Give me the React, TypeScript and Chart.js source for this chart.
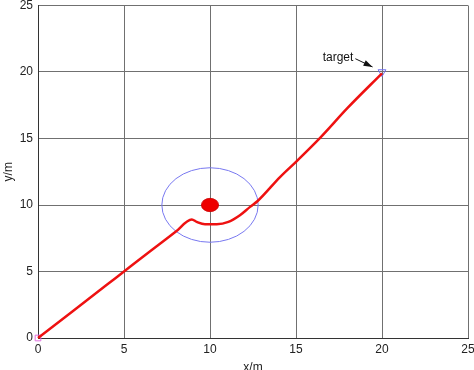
import React, { useEffect, useRef } from "react";
import { Chart, registerables } from "chart.js";

Chart.register(...registerables);

// Robot path (x/m, y/m)
const pathX = [0, 2, 4, 5, 6.5, 8, 8.94, 9.23, 9.71, 10.39, 11.07, 11.74, 12.33, 12.77, 14.07, 15, 16.4, 18, 20];
const pathY = [0, 2, 4, 5, 6.5, 7.98, 8.91, 8.73, 8.56, 8.56, 8.73, 9.23, 9.86, 10.3, 12.1, 13.25, 15.05, 17.3, 19.9];

const startX = [0];
const startY = [0];
const targetX = [20];
const targetY = [20];

const obstacleCenter = [10, 10];
const obstacleRadius = 0.5;
const detectionRadius = 2.8;

const xTicks = [0, 5, 10, 15, 20, 25];
const yTicks = [0, 5, 10, 15, 20, 25];

const targetLabel = "target";
const labelAnchor = [17.44, 21.06];
const arrowFrom = [18.45, 21.0];
const arrowTo = [19.45, 20.38];

const FONT = "'Liberation Sans', Arial, Helvetica, sans-serif";

const overlay = {
  id: "overlay",
  beforeDatasetsDraw(chart: any) {
    const { ctx, scales } = chart;
    const x = scales.x;
    const y = scales.y;
    const cx = x.getPixelForValue(obstacleCenter[0]);
    const cy = y.getPixelForValue(obstacleCenter[1]);
    const rx = Math.abs(x.getPixelForValue(obstacleCenter[0] + detectionRadius) - cx);
    const ry = Math.abs(y.getPixelForValue(obstacleCenter[1] + detectionRadius) - cy);
    ctx.save();
    ctx.beginPath();
    ctx.ellipse(cx, cy, rx, ry, 0, 0, Math.PI * 2);
    ctx.strokeStyle = "#7878f0";
    ctx.lineWidth = 1;
    ctx.stroke();
    const ox = Math.abs(x.getPixelForValue(obstacleCenter[0] + obstacleRadius) - cx);
    const oy = Math.abs(y.getPixelForValue(obstacleCenter[1] + obstacleRadius) - cy);
    ctx.beginPath();
    ctx.ellipse(cx, cy, ox, oy, 0, 0, Math.PI * 2);
    ctx.fillStyle = "#ee0000";
    ctx.fill();
    ctx.strokeStyle = "#cc0000";
    ctx.lineWidth = 0.8;
    ctx.stroke();
    ctx.restore();
  },
  afterDatasetsDraw(chart: any) {
    const { ctx, scales } = chart;
    const x = scales.x;
    const y = scales.y;
    ctx.save();
    ctx.font = `12px ${FONT}`;
    ctx.fillStyle = "#111";
    ctx.textAlign = "center";
    ctx.textBaseline = "middle";
    ctx.fillText(targetLabel, x.getPixelForValue(labelAnchor[0]), y.getPixelForValue(labelAnchor[1]));
    const x1 = x.getPixelForValue(arrowFrom[0]);
    const y1 = y.getPixelForValue(arrowFrom[1]);
    const x2 = x.getPixelForValue(arrowTo[0]);
    const y2 = y.getPixelForValue(arrowTo[1]);
    ctx.beginPath();
    ctx.moveTo(x1, y1);
    ctx.lineTo(x2, y2);
    ctx.strokeStyle = "#111";
    ctx.lineWidth = 1;
    ctx.stroke();
    const ang = Math.atan2(y2 - y1, x2 - x1);
    const len = 9;
    const wid = 3;
    ctx.beginPath();
    ctx.moveTo(x2, y2);
    ctx.lineTo(x2 - len * Math.cos(ang) + wid * Math.sin(ang), y2 - len * Math.sin(ang) - wid * Math.cos(ang));
    ctx.lineTo(x2 - len * Math.cos(ang) - wid * Math.sin(ang), y2 - len * Math.sin(ang) + wid * Math.cos(ang));
    ctx.closePath();
    ctx.fillStyle = "#111";
    ctx.fill();
    ctx.restore();
  },
};

export default function App() {
  const ref = useRef<HTMLCanvasElement | null>(null);

  useEffect(() => {
    if (!ref.current) return;
    const tickFont = { family: FONT, size: 12 };
    const chart = new Chart(ref.current, {
      type: "scatter",
      data: {
        datasets: [
          {
            data: pathX.map((v, i) => ({ x: v, y: pathY[i] })),
            showLine: true,
            borderColor: "#ee1111",
            borderWidth: 2.5,
            pointRadius: 0,
            cubicInterpolationMode: "monotone",
          },
          {
            data: startX.map((v, i) => ({ x: v, y: startY[i] })),
            pointStyle: "rect",
            pointRadius: 4,
            borderColor: "#e070e0",
            backgroundColor: "rgba(0,0,0,0)",
            borderWidth: 1,
          },
          {
            data: targetX.map((v, i) => ({ x: v, y: targetY[i] })),
            pointStyle: "triangle",
            rotation: 180,
            pointRadius: 4.5,
            borderColor: "#7070f0",
            backgroundColor: "rgba(0,0,0,0)",
            borderWidth: 1,
          },
        ],
      },
      options: {
        animation: false,
        responsive: false,
        clip: false as any,
        layout: { padding: { top: 5, right: 6, left: 0, bottom: 0 } },
        plugins: { legend: { display: false }, tooltip: { enabled: false } },
        scales: {
          x: {
            type: "linear",
            position: "bottom",
            min: 0,
            max: 25,
            afterBuildTicks: (s: any) => {
              s.ticks = xTicks.map((v) => ({ value: v }));
            },
            afterFit: (s: any) => {
              s.height = 32;
              s.paddingLeft = 0;
              s.paddingRight = 0;
            },
            grid: { color: "#707070", lineWidth: 1, drawTicks: false },
            border: { display: true, color: "#333", width: 1 },
            ticks: { color: "#222", font: tickFont, padding: 4, maxRotation: 0 },
            title: { display: true, text: "x/m", color: "#222", font: tickFont, padding: { top: 0, bottom: -5 } },
          },
          y: {
            type: "linear",
            min: 0,
            max: 25,
            afterBuildTicks: (s: any) => {
              s.ticks = yTicks.map((v) => ({ value: v }));
            },
            afterFit: (s: any) => {
              s.width = 38;
              s.paddingTop = 0;
              s.paddingBottom = 0;
            },
            grid: { color: "#707070", lineWidth: 1, drawTicks: false },
            border: { display: true, color: "#333", width: 1 },
            ticks: { color: "#222", font: tickFont, padding: 5 },
            title: { display: true, text: "y/m", color: "#222", font: tickFont, padding: { top: 1, bottom: 0 } },
          },
        },
      },
      plugins: [overlay],
    });
    return () => chart.destroy();
  }, []);

  return (
    <div style={{ position: "fixed", left: 0, top: 0, width: 474, height: 370, background: "#fff" }}>
      <canvas ref={ref} width={474} height={370} style={{ display: "block" }} />
    </div>
  );
}
